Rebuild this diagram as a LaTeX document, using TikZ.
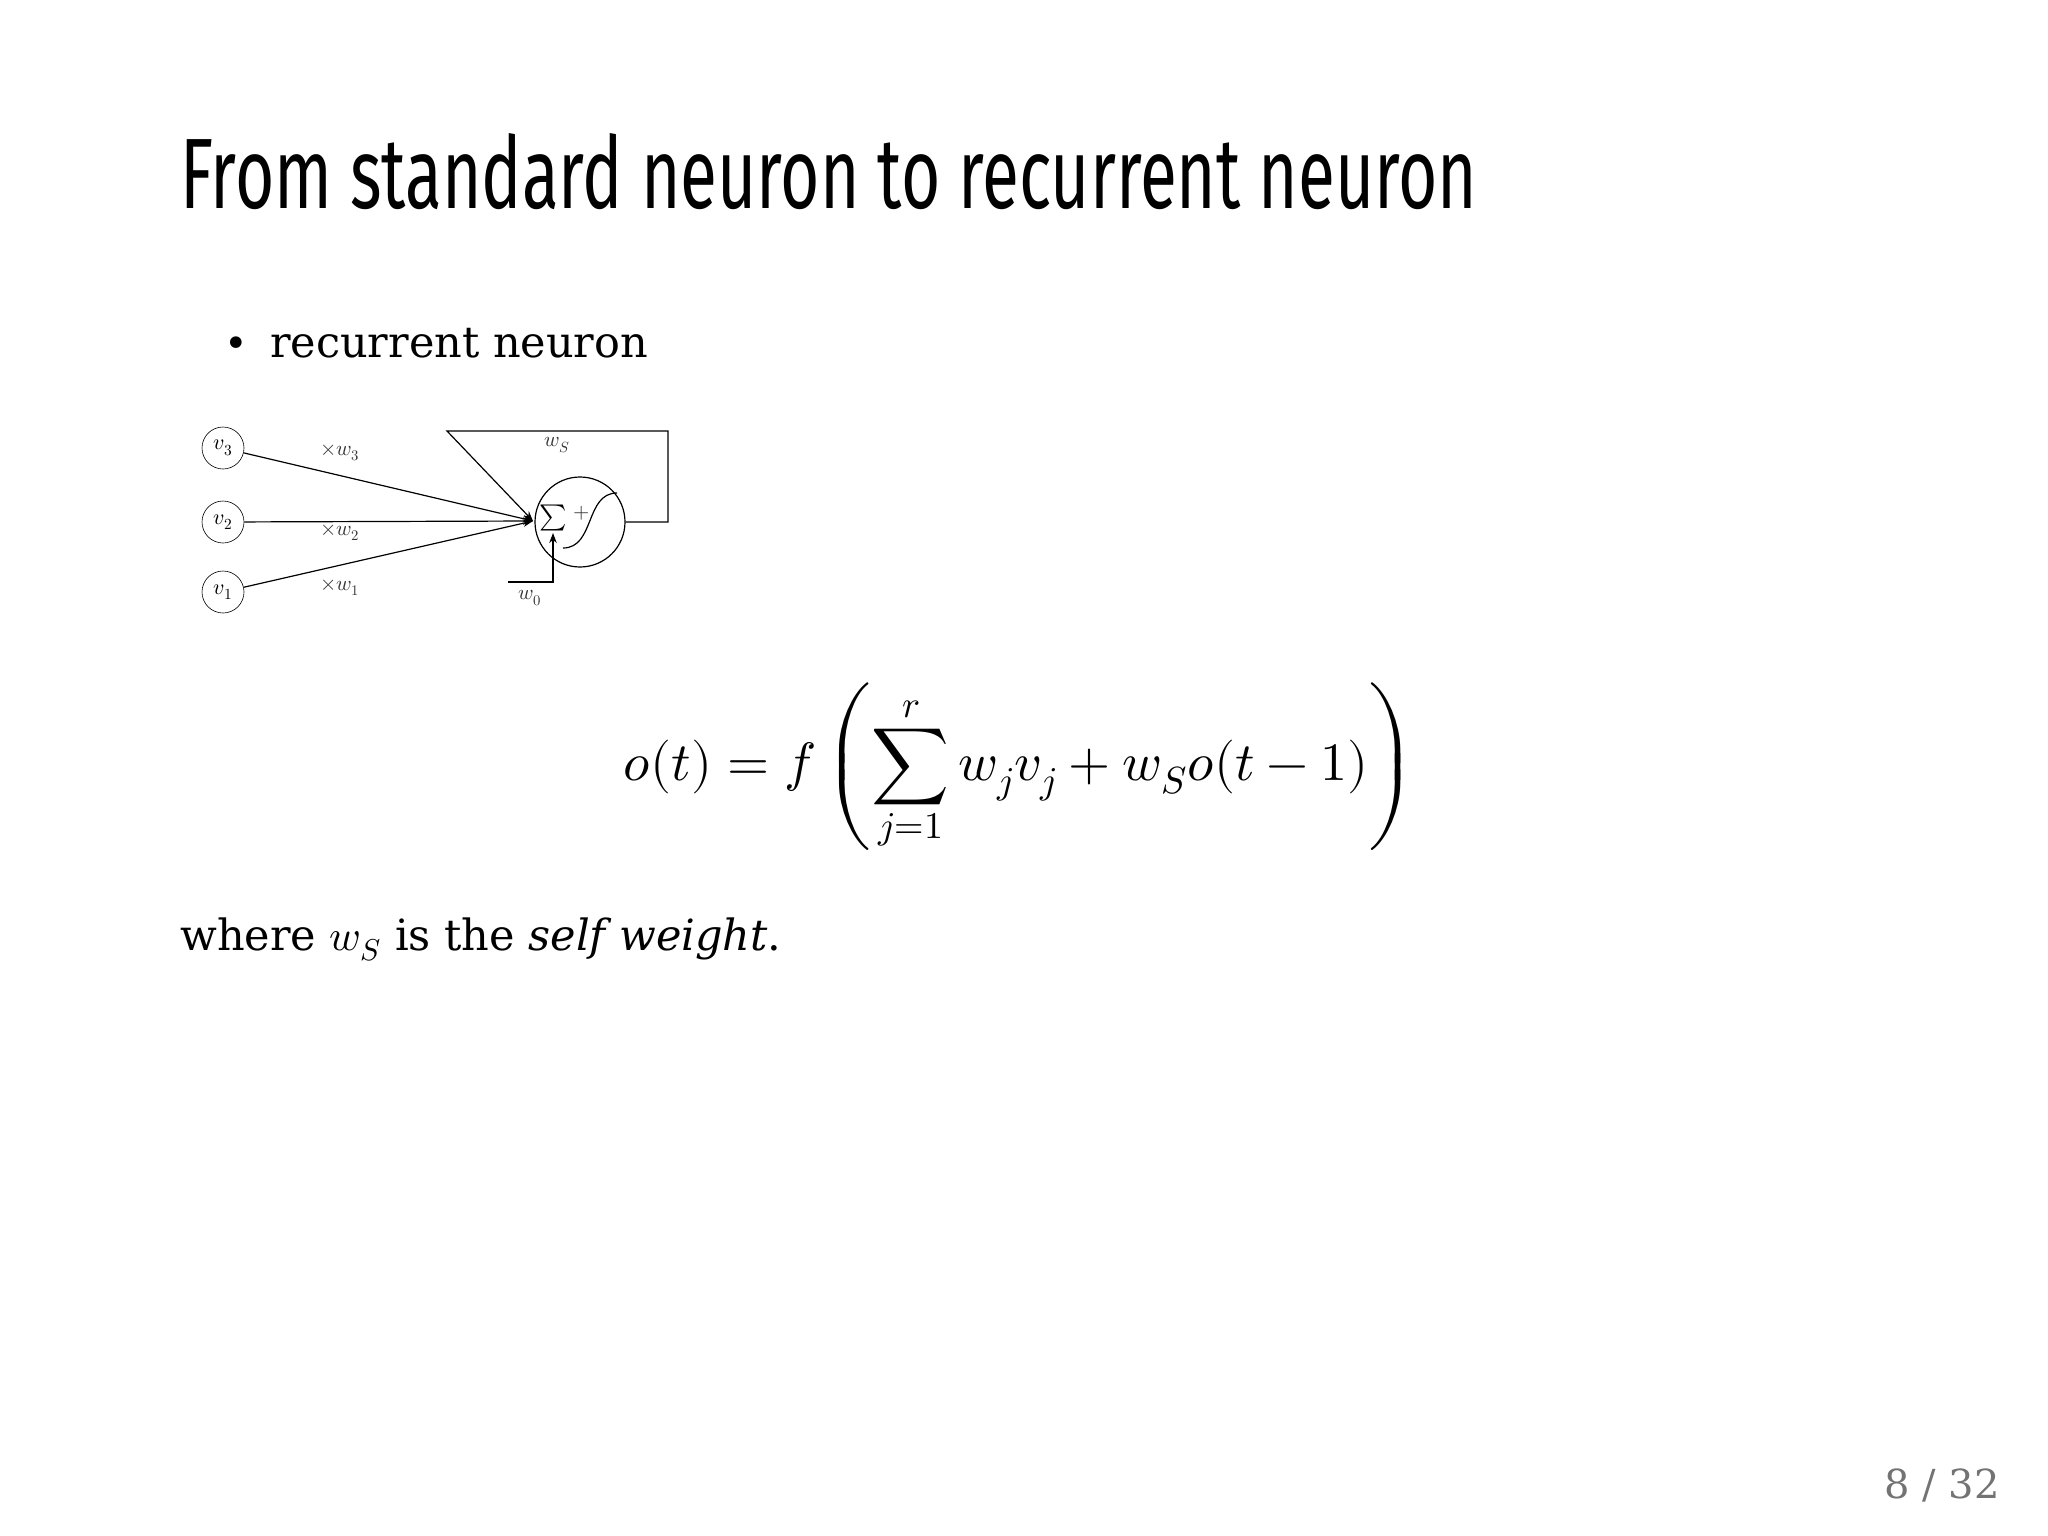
\documentclass[tikz,border=0pt]{standalone}
\usepackage{amsmath}
\usepackage{fontspec}
\usepackage{unicode-math}
\setmainfont{DejaVu Serif}
\setmathfont{Latin Modern Math}
\newfontfamily\titlefont[FakeStretch=0.675]{Fira Sans}
\usetikzlibrary{arrows.meta}
\tikzset{inp/.style={circle,draw,semithick,minimum size=42pt,inner sep=0pt,font=\fontsize{22}{22}\selectfont},
lbl/.style={font=\fontsize{21}{21}\selectfont,text=black!80},
con/.style={semithick,line width=1.2pt,-{Stealth[length=10pt]}}}
\begin{document}
\begin{tikzpicture}[x=1pt,y=-1pt]
\useasboundingbox (0,0) rectangle (2048,1536);
\node[anchor=base west,inner sep=0,font=\titlefont\fontsize{100}{100}\selectfont] (title) at (180,208) {From standard neuron to recurrent neuron};
\node[anchor=base,inner sep=0,font=\fontsize{40}{40}\selectfont] (bul) at (236,357) {\textbullet};
\node[anchor=base west,inner sep=0,font=\fontsize{43}{43}\selectfont] (b) at (270,357) {recurrent neuron};
% diagram
\node[inp] (v3) at (223,448) {$v_3$};
\node[inp] (v2) at (223,522) {$v_2$};
\node[inp] (v1) at (223,592) {$v_1$};
\node[circle,draw,line width=1.2pt,minimum size=90pt,inner sep=0] (n) at (580,522) {};
\coordinate (in) at (533,521);
\draw[con] (v3) -- (in);
\draw[con] (v2) -- (in);
\draw[con] (v1) -- (in);
\coordinate (f1) at (668,522);
\coordinate (f2) at (668,431);
\coordinate (f3) at (447,431);
\draw[con] (n.east) -- (f1) -- (f2) -- (f3) -- (in);
\coordinate (w0s) at (508,582);
\coordinate (w0c) at (553,582);
\coordinate (w0e) at (553,533);
\draw[con] (w0s) -- (w0c) -- (w0e);
\node[lbl] (l3) at (340,453) {$\times w_3$};
\node[lbl] (l2) at (340,533) {$\times w_2$};
\node[lbl] (l1) at (340,588) {$\times w_1$};
\node[lbl] (ls) at (557,445) {$w_S$};
\node[lbl] (l0) at (530,598) {$w_0$};
\node[font=\fontsize{26}{26}\selectfont] (sum) at (553,518) {$\sum$};
\node[lbl] (plus) at (582,513) {$+$};
\draw[line width=1.2pt] (563,548) .. controls (595,548) and (585,493) .. (617,493);
% equation
\node[font=\fontsize{54}{54}\selectfont] (eq) at (1020,768) {$\displaystyle o(t) = f\left(\sum_{j=1}^{r} w_j v_j + w_S o(t-1)\right)$};
\node[anchor=base west,inner sep=0,font=\fontsize{43}{43}\selectfont] (w) at (180,950) {where $w_S$ is the \textit{self weight}.};
\node[anchor=base east,inner sep=0,font=\fontsize{40}{40}\selectfont,text=black!55] (pg) at (2000,1498) {8 / 32};
\end{tikzpicture}
\end{document}
